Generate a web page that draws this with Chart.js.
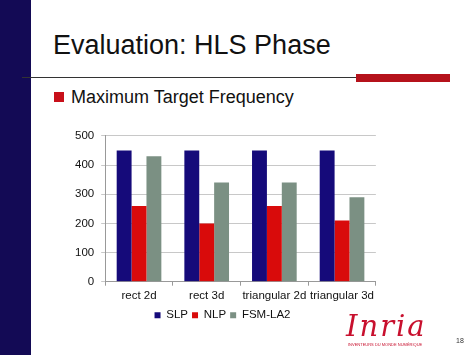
<!DOCTYPE html>
<html><head><meta charset="utf-8">
<script src="https://cdn.jsdelivr.net/npm/chart.js@4/dist/chart.umd.min.js"></script>
<style>
html,body{margin:0;padding:0;background:#fff;}
#page{position:relative;width:474px;height:355px;overflow:hidden;font-family:"Liberation Sans",Arial,sans-serif;}
#side{position:absolute;left:0;top:0;width:31px;height:355px;background:#130a55;}
#title{position:absolute;left:53px;top:30px;font-size:27px;color:#111;white-space:nowrap;}
#rule{position:absolute;left:22px;top:77px;width:335px;height:1px;background:#333;}
#redbar{position:absolute;left:356px;top:74px;width:94px;height:8px;background:#b5121b;}
#bullet{position:absolute;left:54px;top:92px;width:10px;height:10px;background:#c8101a;}
#sub{position:absolute;left:71px;top:87px;font-size:18px;color:#111;white-space:nowrap;}
#wrap{position:absolute;left:68px;top:122px;width:309px;height:209px;}
#logo{position:absolute;left:346px;top:309px;font-family:"DejaVu Serif",serif;font-style:italic;font-size:29px;letter-spacing:2px;color:#c8102e;}
#logosub{position:absolute;left:348px;top:342px;font-size:4px;color:#c8102e;}
#pg{position:absolute;left:456px;top:337px;font-size:7px;color:#333;}
</style></head>
<body><div id="page">
<div id="side"></div>
<div id="title">Evaluation: HLS Phase</div>
<div id="rule"></div><div id="redbar"></div>
<div id="bullet"></div><div id="sub">Maximum Target Frequency</div>
<div id="wrap"><canvas id="c"></canvas></div>
<div id="logo">Inria</div>
<div id="logosub">INVENTEURS DU MONDE NUMÉRIQUE</div>
<div id="pg">18</div>
</div>
<script>
const categories = ["rect 2d","rect 3d","triangular 2d","triangular 3d"];
const seriesNames = ["SLP","NLP","FSM-LA2"];
const slp = [450,450,450,450];
const nlp = [260,200,260,210];
const fsm = [430,340,340,290];
const yTicks = [0,100,200,300,400,500];
const colors = ["#150a7a","#d90b0b","#7b9083"];

new Chart(document.getElementById("c"),{
  type:"bar",
  data:{labels:categories,datasets:[
    {label:seriesNames[0],data:slp,backgroundColor:colors[0]},
    {label:seriesNames[1],data:nlp,backgroundColor:colors[1]},
    {label:seriesNames[2],data:fsm,backgroundColor:colors[2]}
  ]},
  options:{
    responsive:true,maintainAspectRatio:false,animation:false,
    layout:{padding:{left:0,right:0,top:6,bottom:0}},
    datasets:{bar:{categoryPercentage:0.66,barPercentage:1}},
    plugins:{
      legend:{position:"bottom",labels:{boxWidth:6,boxHeight:6,padding:4,color:"#111",font:{size:11.5,family:"Liberation Sans"}}},
      tooltip:{enabled:false}
    },
    scales:{
      x:{grid:{display:true,drawOnChartArea:false,color:"#999",tickLength:4,offset:true},border:{color:"#999"},
         ticks:{color:"#111",font:{size:11.5,family:"Liberation Sans"},maxRotation:0,autoSkip:false,padding:3}},
      y:{min:0,max:500,afterBuildTicks:ax=>{ax.ticks=yTicks.map(v=>({value:v}));},
         grid:{color:"#c8c8c8",tickLength:4},border:{color:"#999"},
         ticks:{color:"#111",font:{size:11.5,family:"Liberation Sans"},padding:7}}
    }
  }
});
</script>
</body></html>
